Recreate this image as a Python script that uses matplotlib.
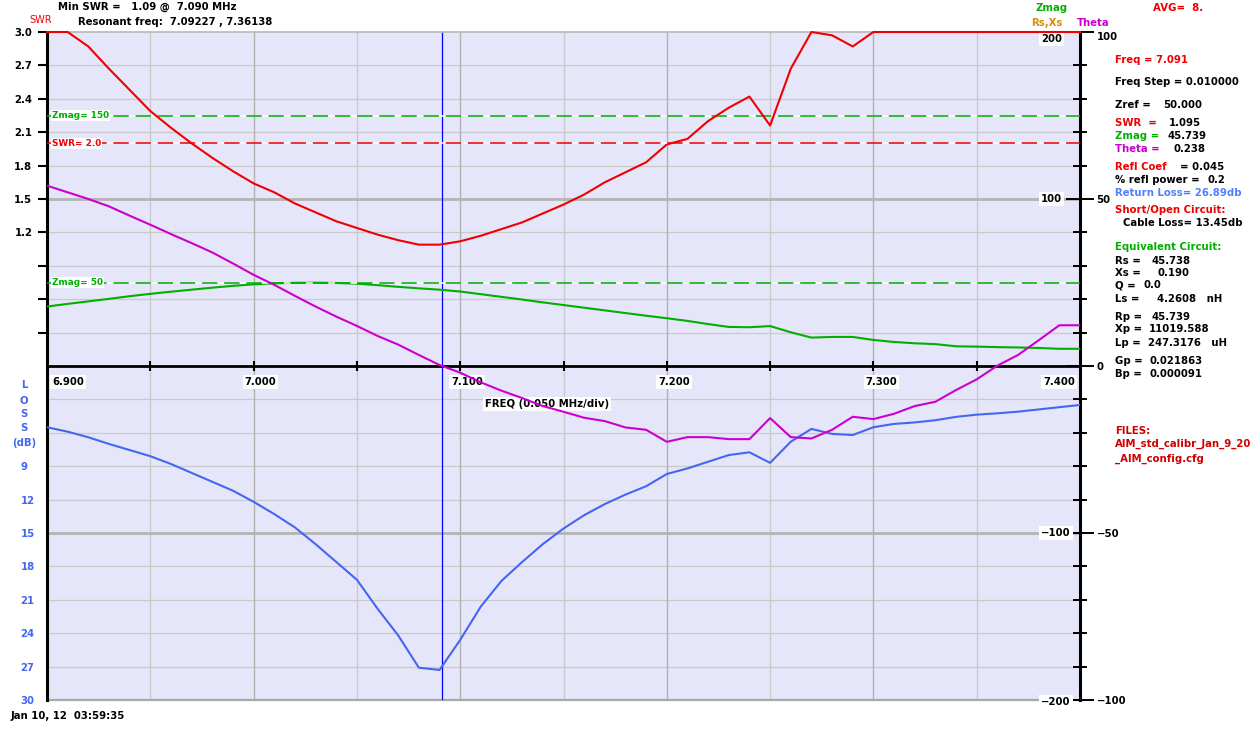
import matplotlib
matplotlib.use('Agg')
import matplotlib.pyplot as plt
import matplotlib.transforms as mtransforms

# ---------------- data ----------------
freq = [6.90, 6.91, 6.92, 6.93, 6.94, 6.95, 6.96, 6.97, 6.98, 6.99,
        7.00, 7.01, 7.02, 7.03, 7.04, 7.05, 7.06, 7.07, 7.08, 7.09,
        7.10, 7.11, 7.12, 7.13, 7.14, 7.15, 7.16, 7.17, 7.18, 7.19,
        7.20, 7.21, 7.22, 7.23, 7.24, 7.25, 7.26, 7.27, 7.28, 7.29,
        7.30, 7.31, 7.32, 7.33, 7.34, 7.35, 7.36, 7.37, 7.38, 7.39, 7.40]

swr = [3.00, 3.00, 2.87, 2.67, 2.48, 2.29, 2.14, 2.00, 1.87, 1.75,
       1.64, 1.56, 1.46, 1.38, 1.30, 1.24, 1.18, 1.13, 1.09, 1.09,
       1.12, 1.17, 1.23, 1.29, 1.37, 1.45, 1.54, 1.65, 1.74, 1.83,
       1.99, 2.04, 2.20, 2.32, 2.42, 2.16, 2.67, 3.00, 2.97, 2.87,
       3.00, 3.00, 3.00, 3.00, 3.00, 3.00, 3.00, 3.00, 3.00, 3.00, 3.00]

zmag = [35.6, 37.2, 38.7, 40.2, 41.8, 43.2, 44.5, 45.7, 46.9, 48.0,
        48.9, 49.5, 49.8, 49.9, 49.7, 49.3, 48.4, 47.4, 46.5, 45.7,
        44.6, 43.0, 41.4, 39.8, 38.1, 36.5, 34.9, 33.3, 31.7, 30.1,
        28.6, 27.0, 25.1, 23.4, 23.2, 23.9, 20.2, 17.0, 17.4, 17.4,
        15.6, 14.4, 13.6, 13.1, 11.8, 11.6, 11.3, 11.1, 10.8, 10.3, 10.3]

theta = [54.0, 52.0, 50.0, 47.8, 45.0, 42.3, 39.5, 36.8, 34.0, 30.7,
         27.3, 24.3, 21.0, 17.8, 14.8, 12.0, 9.0, 6.4, 3.3, 0.3,
         -2.0, -4.9, -7.4, -9.6, -12.0, -13.7, -15.5, -16.5, -18.4, -19.1,
         -22.7, -21.3, -21.3, -21.9, -21.9, -15.6, -21.3, -21.7, -19.1, -15.2,
         -15.9, -14.3, -12.0, -10.7, -7.2, -4.0, 0.1, 3.3, 7.7, 12.2, 12.2]

ret_loss = [5.5, 5.9, 6.4, 7.0, 7.55, 8.1, 8.8, 9.6, 10.4, 11.2,
            12.2, 13.3, 14.5, 16.0, 17.6, 19.2, 21.8, 24.2, 27.1, 27.3,
            24.6, 21.6, 19.3, 17.6, 16.0, 14.6, 13.4, 12.4, 11.55, 10.8,
            9.7, 9.2, 8.6, 8.0, 7.75, 8.7, 6.8, 5.65, 6.1, 6.2,
            5.5, 5.2, 5.07, 4.87, 4.57, 4.37, 4.25, 4.1, 3.9, 3.7, 3.5]

cursor_freq = 7.091
swr_ref = 2.0
zmag_refs = [150, 50]

swr_tick_vals = [3.0, 2.7, 2.4, 2.1, 1.8, 1.5, 1.2, 0.9, 0.6, 0.3]
swr_tick_labels = ['3.0', '2.7', '2.4', '2.1', '1.8', '1.5', '1.2', '', '', '']
loss_tick_vals = [9, 12, 15, 18, 21, 24, 27, 30]
loss_tick_labels = ['9', '12', '15', '18', '21', '24', '27', '30']
theta_major_vals = [100, 50, 0, -50, -100]
theta_major_labels = ['100', '50', '0', '\u221250', '\u2212100']
theta_minor_vals = [v for v in range(-90, 100, 10) if v not in (50, 0, -50)]
zmag_label_vals = [200, 100, -100, -200]
zmag_label_texts = ['200', '100', '\u2212100', '\u2212200']
freq_grid = [6.95, 7.00, 7.05, 7.10, 7.15, 7.20, 7.25, 7.30, 7.35]
freq_major = [7.00, 7.10, 7.20, 7.30]
freq_label_vals = [6.9, 7.0, 7.1, 7.2, 7.3, 7.4]
freq_label_texts = ['6.900', '7.000', '7.100', '7.200', '7.300', '7.400']
freq_label_shift = [0.0102, 0.0033, 0.0033, 0.0035, 0.0038, -0.0102]

# ---------------- style ----------------
plt.rcParams['font.family'] = ['DejaVu Sans']
FS = 7.3
RED = '#F00000'
GREEN = '#00B000'
MAG = '#CC00CC'
BLUE = '#4466F0'
LBLUE = '#4F80FF'
ORANGE = '#D98E04'
DARKRED = '#D00000'

W, H = 1250, 750
fig = plt.figure(figsize=(12.5, 7.5), dpi=100)
fig.patch.set_facecolor('white')


def fx(px):
    return px / W


def fy(py):
    return 1 - py / H


ax = fig.add_axes([fx(47), fy(700), (1080 - 47) / W, (700 - 32) / H])
ax.set_facecolor('#E6E6FA')
ax.set_xlim(6.9, 7.4)
ax.set_ylim(-100, 100)

# grid
for v in range(-90, 100, 10):
    if v in (50, -50):
        ax.axhline(v, color='#B4B4B4', lw=2.0, zorder=0.6)
    elif v != 0:
        ax.axhline(v, color='#CACACA', lw=0.9, zorder=0.5)
for f in freq_grid:
    c = '#B0B0B0' if f in freq_major else '#CACACA'
    ax.axvline(f, color=c, lw=1.0, zorder=0.5)
ax.axhline(-100, color='#A8A8A8', lw=1.6, clip_on=False, zorder=0.7)

# spines
for side in ('left', 'right'):
    ax.spines[side].set_color('black')
    ax.spines[side].set_linewidth(2.2)
ax.spines['top'].set_color('#B8B8B8')
ax.spines['top'].set_linewidth(1.2)
ax.spines['bottom'].set_position(('data', 0))
ax.spines['bottom'].set_color('black')
ax.spines['bottom'].set_linewidth(2.0)

# x ticks on middle line
ax.set_xticks(freq_grid)
ax.tick_params(axis='x', direction='inout', length=7, width=1.5,
               labelbottom=False, color='black')

# cursor line
ax.axvline(cursor_freq, color='#0000FF', lw=0.9, zorder=2)

# x labels with white boxes
box = dict(boxstyle='square,pad=0.18', fc='white', ec='none')
for v, t, s in zip(freq_label_vals, freq_label_texts, freq_label_shift):
    ax.text(v + s, 0, t, transform=mtransforms.offset_copy(
        ax.transData, fig, y=-16, units='dots'),
        ha='center', va='center', fontsize=FS, fontweight='bold', bbox=box,
        zorder=3)
ax.text(0.484, 0, 'FREQ (0.050 MHz/div)',
        transform=mtransforms.offset_copy(
            mtransforms.blended_transform_factory(ax.transAxes, ax.transData),
            fig, y=-38, units='dots'),
        ha='center', va='center', fontsize=FS, fontweight='bold', bbox=box,
        zorder=3)


# ---------------- twin axes for the curves ----------------
def make_twin():
    t = ax.twinx()
    for s in t.spines.values():
        s.set_visible(False)
    return t


ax_loss = make_twin()
ax_loss.set_ylim(30, -30)
ax_loss.yaxis.set_ticks_position('left')
ax_loss.set_yticks(loss_tick_vals)
ax_loss.set_yticklabels(loss_tick_labels, fontsize=FS, fontweight='bold',
                        color=BLUE, ha='left')
ax_loss.tick_params(axis='y', length=0, pad=19)
ax_loss.plot(freq, ret_loss, color=BLUE, lw=1.5, solid_joinstyle='round')

loss_letters = ['L', 'O', 'S', 'S', '(dB)']
loss_letter_y = [1.7, 3.1, 4.3, 5.6, 6.9]
lbl_tr = mtransforms.blended_transform_factory(fig.transFigure, ax_loss.transData)
for t, yv in zip(loss_letters, loss_letter_y):
    ax_loss.text(fx(24), yv, t, transform=lbl_tr, ha='center', va='center',
                 fontsize=FS, fontweight='bold', color=BLUE)

ax_z = make_twin()
ax_z.set_ylim(-200, 200)
ax_z.set_yticks([])
ax_z.plot(freq, zmag, color=GREEN, lw=1.5, solid_joinstyle='round')
zl_tr = mtransforms.blended_transform_factory(ax.transAxes, ax_z.transData)
for zr in zmag_refs:
    ax_z.axhline(zr, color=GREEN, lw=1.1, dashes=(10, 4.5), gapcolor='white')
    ax_z.text(0.0045, zr, 'Zmag= %d' % zr, transform=zl_tr, ha='left',
              va='center', fontsize=6.4, fontweight='bold', color=GREEN,
              bbox=dict(boxstyle='square,pad=0.12', fc='white', ec='none'))
for v, t in zip(zmag_label_vals, zmag_label_texts):
    off = -7 if v == 200 else (-2 if v == -200 else 0)
    ax.text(0.9625, v, t,
            transform=mtransforms.offset_copy(zl_tr, fig, y=off, units='dots'),
            ha='left', va='center', fontsize=FS, fontweight='bold',
            bbox=box, zorder=3)

ax_th = make_twin()
ax_th.set_ylim(-100, 100)
ax_th.set_yticks([])
ax_th.plot(freq, theta, color=MAG, lw=1.5, solid_joinstyle='round')

ax_swr = make_twin()
ax_swr.set_ylim(-3, 3)
ax_swr.yaxis.set_ticks_position('left')
ax_swr.set_yticks(swr_tick_vals)
ax_swr.set_yticklabels(swr_tick_labels, fontsize=FS, fontweight='bold')
ax_swr.tick_params(axis='y', direction='out', length=6.5, width=1.5, pad=4)
ax_swr.plot(freq, swr, color=RED, lw=1.5, solid_joinstyle='round',
            clip_on=False)
sw_tr = mtransforms.blended_transform_factory(ax.transAxes, ax_swr.transData)
ax_swr.axhline(swr_ref, color=RED, lw=1.1, dashes=(10, 4.5), gapcolor='white')
ax_swr.text(0.0045, swr_ref, 'SWR= %.1f' % swr_ref, transform=sw_tr,
            ha='left', va='center', fontsize=6.4, fontweight='bold', color=RED,
            bbox=dict(boxstyle='square,pad=0.12', fc='white', ec='none'))

# right (theta) axis -- set after twinx, which moves ax ticks to the left
ax.yaxis.set_ticks_position('right')
ax.yaxis.set_label_position('right')
ax.set_yticks(theta_major_vals)
ax.set_yticklabels(theta_major_labels, fontsize=FS, fontweight='bold')
ax.set_yticks(theta_minor_vals, minor=True)
ax.tick_params(axis='y', which='major', direction='inout', length=20,
               width=1.4, pad=2, left=False, labelleft=False,
               right=True, labelright=True)
ax.tick_params(axis='y', which='minor', direction='inout', length=10,
               width=1.4, left=False, right=True)
for lbl in ax.get_yticklabels():
    if lbl.get_text() == '100':
        lbl.set_verticalalignment('top')


# ---------------- header / panel texts ----------------
def t(px, py, s, color='black', size=FS, weight='bold'):
    fig.text(fx(px), fy(py), s, color=color, fontsize=size,
             fontweight=weight, ha='left', va='center')


t(58, 7, 'Min SWR =   1.09 @  7.090 MHz')
t(29, 20, 'SWR', RED, 7.0, 'normal')
t(78, 22, 'Resonant freq:  7.09227 , 7.36138')
t(1035, 8, 'Zmag', GREEN)
t(1031, 23, 'Rs,Xs', ORANGE)
t(1077, 23, 'Theta', MAG)
t(1153, 8, 'AVG=  8.', RED)

t(1115, 60, 'Freq = 7.091', RED)
t(1115, 82, 'Freq Step = 0.010000')
t(1115, 105, 'Zref =')
t(1163, 105, '50.000')
t(1115, 123, 'SWR  =', RED)
t(1169, 123, '1.095')
t(1115, 136, 'Zmag =', GREEN)
t(1167, 136, '45.739')
t(1115, 149, 'Theta =', MAG)
t(1173, 149, '0.238')
t(1115, 167, 'Refl Coef', RED)
t(1180, 167, '= 0.045')
t(1115, 180, '% refl power =')
t(1208, 180, '0.2')
t(1115, 193, 'Return Loss= 26.89db', LBLUE)
t(1115, 210, 'Short/Open Circuit:', RED)
t(1123, 223, 'Cable Loss= 13.45db')
t(1115, 247, 'Equivalent Circuit:', GREEN)
panel_rows = [
    (261, 'Rs =', 1152, '45.738'),
    (273, 'Xs =', 1157, '0.190'),
    (285, 'Q =', 1143, '0.0'),
    (299, 'Ls =', 1157, '4.2608   nH'),
    (317, 'Rp =', 1152, '45.739'),
    (329, 'Xp =', 1149, '11019.588'),
    (343, 'Lp =', 1148, '247.3176   uH'),
    (361, 'Gp =', 1150, '0.021863'),
    (374, 'Bp =', 1149, '0.000091'),
]
for py, lab, vx, val in panel_rows:
    t(1115, py, lab)
    t(vx, py, val)
t(1115, 431, 'FILES:', DARKRED)
t(1115, 444, 'AIM_std_calibr_Jan_9_2012', DARKRED)
t(1115, 459, '_AIM_config.cfg', DARKRED)
t(10, 716, 'Jan 10, 12  03:59:35')

fig.savefig('out.png', dpi=100, facecolor='white')
